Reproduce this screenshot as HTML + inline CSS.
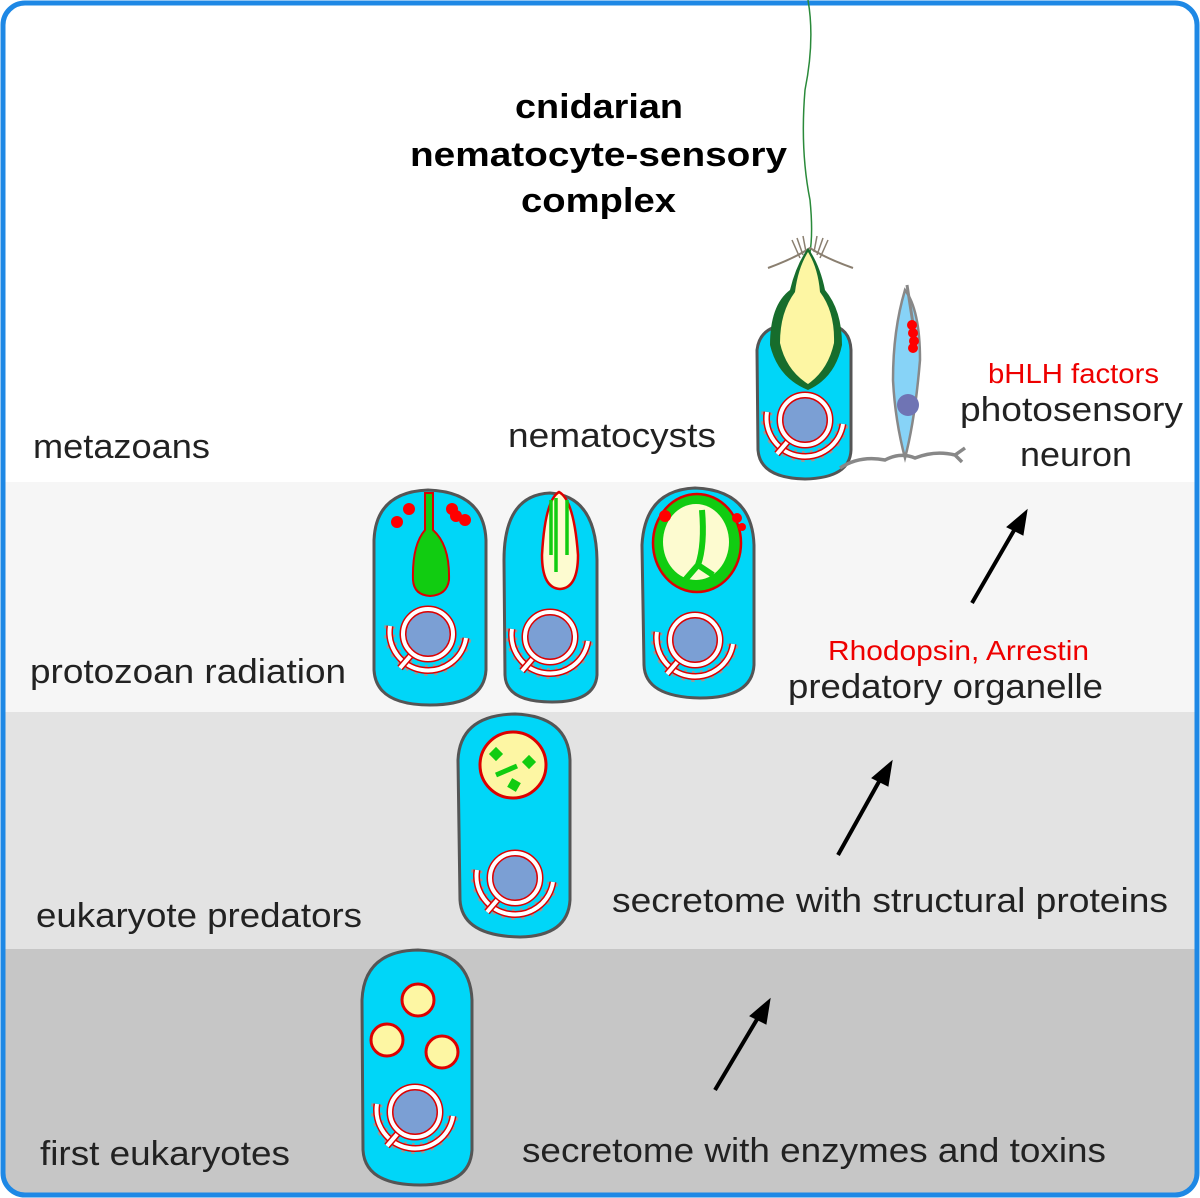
<!DOCTYPE html>
<html><head><meta charset="utf-8"><style>
html,body{margin:0;padding:0;background:#fff}
svg{display:block}
text{font-family:"Liberation Sans",sans-serif}
</style></head><body>
<svg width="1200" height="1198" viewBox="0 0 1200 1198" xmlns="http://www.w3.org/2000/svg">
<defs>
<clipPath id="cp"><rect x="3" y="3" width="1194" height="1192" rx="22"/></clipPath>
<g id="nuc">
  <path d="M-38,-8 A38 38 0 1 0 38,4" fill="none" stroke="#999" stroke-width="11" stroke-dasharray="3 6"/>
  <path d="M-38,-8 A38 38 0 1 0 38,4" fill="none" stroke="#d00" stroke-width="7"/>
  <path d="M-38,-8 A38 38 0 1 0 38,4" fill="none" stroke="#fff" stroke-width="4"/>
  <path d="M-16,20 L-28,34" stroke="#d00" stroke-width="7"/>
  <path d="M-16,20 L-28,34" stroke="#fff" stroke-width="4"/>
  <circle r="22" fill="#7b9fd4"/>
  <circle r="25" fill="none" stroke="#d00" stroke-width="7"/>
  <circle r="25" fill="none" stroke="#fff" stroke-width="4"/>
</g>
</defs>
<g clip-path="url(#cp)">
<rect x="0" y="0" width="1200" height="482" fill="#fff"/>
<rect x="0" y="482" width="1200" height="230" fill="#f6f6f6"/>
<rect x="0" y="712" width="1200" height="237" fill="#e3e3e3"/>
<rect x="0" y="949" width="1200" height="250" fill="#c6c6c6"/>
</g>
<rect x="3" y="3" width="1194" height="1192" rx="22" fill="none" stroke="#1e88e5" stroke-width="5"/>

<!-- first eukaryote -->
<path d="M362,1000 Q364,951 418,950 Q470,952 472,1000 L472,1150 Q470,1185 420,1185 Q365,1185 363,1150Z" fill="#00d6f8" stroke="#555" stroke-width="3"/>
<circle cx="418" cy="1000" r="16" fill="#fdf6a3" stroke="#d00" stroke-width="3"/>
<circle cx="387" cy="1040" r="16" fill="#fdf6a3" stroke="#d00" stroke-width="3"/>
<circle cx="442" cy="1052" r="16" fill="#fdf6a3" stroke="#d00" stroke-width="3"/>
<use href="#nuc" x="415" y="1112"/>

<!-- eukaryote predator -->
<path d="M458,760 Q460,715 515,714 Q568,716 570,760 L570,900 Q568,936 520,937 Q462,936 460,900Z" fill="#00d6f8" stroke="#555" stroke-width="3"/>
<circle cx="513" cy="765" r="33" fill="#fdf6a3" stroke="#d00" stroke-width="3"/>
<rect x="491" y="749" width="10" height="10" fill="#1c1" transform="rotate(45 496 754)"/>
<rect x="524" y="757" width="10" height="10" fill="#1c1" transform="rotate(45 529 762)"/>
<rect x="509" y="780" width="10" height="10" fill="#1c1" transform="rotate(30 514 785)"/>
<path d="M496,775 L517,766" stroke="#1c1" stroke-width="5"/>
<use href="#nuc" x="515" y="878"/>

<!-- protozoan cell 1 -->
<path d="M374,540 Q376,492 428,490 Q484,492 486,540 L486,670 Q484,705 430,705 Q376,705 374,670Z" fill="#00d6f8" stroke="#555" stroke-width="3"/>
<path d="M425,493 L433,493 L433,530 Q450,545 449,580 Q447,595 430,596 Q414,595 413,580 Q412,545 425,530Z" fill="#1c1" stroke="#d00" stroke-width="2"/>
<circle cx="409" cy="509" r="6" fill="#f00"/><circle cx="397" cy="522" r="6" fill="#f00"/>
<circle cx="452" cy="509" r="6" fill="#f00"/><circle cx="456" cy="516" r="6" fill="#f00"/><circle cx="465" cy="520" r="6" fill="#f00"/>
<use href="#nuc" x="428" y="634"/>

<!-- protozoan cell 2 -->
<path d="M504,560 Q504,495 550,493 Q596,496 597,560 L597,675 Q595,702 552,702 Q506,702 505,675Z" fill="#00d6f8" stroke="#555" stroke-width="3"/>
<path d="M559,492 Q574,500 578,555 Q578,588 560,589 Q542,588 542,555 Q545,500 559,492Z" fill="#fdfbd0" stroke="#d00" stroke-width="2.5"/>
<path d="M556,498 V572 M551,500 V555 M567,500 V555" stroke="#1c1" stroke-width="3.5"/>
<use href="#nuc" x="550" y="637"/>

<!-- protozoan cell 3 -->
<path d="M642,545 Q645,490 695,488 Q752,490 754,545 L754,665 Q752,698 700,698 Q645,697 644,665Z" fill="#00d6f8" stroke="#555" stroke-width="3"/>
<ellipse cx="697" cy="543" rx="44" ry="49" fill="#1c1" stroke="#d00" stroke-width="2.5"/>
<ellipse cx="696" cy="542" rx="33" ry="38" fill="#fdfbd0"/>
<path d="M702,510 Q705,545 698,565 L685,580 M698,565 L713,575" fill="none" stroke="#1c1" stroke-width="6"/>
<circle cx="665" cy="516" r="6" fill="#f00"/><circle cx="737" cy="518" r="5" fill="#f00"/><circle cx="742" cy="527" r="4" fill="#f00"/>
<use href="#nuc" x="695" y="640"/>

<!-- cnidarian nematocyte -->
<path d="M808,0 Q815,40 805,90 Q800,150 810,200 Q814,240 808,262" fill="none" stroke="#2a8a3a" stroke-width="1.5"/>
<path d="M768,268 Q795,258 810,248 Q825,258 853,268" fill="none" stroke="#8a7f70" stroke-width="2"/>
<g stroke="#8a7f70" stroke-width="1.5">
<path d="M800,258 L792,240 M803,255 L797,238 M806,252 L803,236 M814,252 L817,236 M817,255 L823,238 M820,258 L828,240"/></g>
<path d="M757,350 Q760,325 790,325 L830,325 Q850,328 851,350 L851,450 Q850,478 805,479 Q760,478 758,450Z" fill="#00d6f8" stroke="#555" stroke-width="3"/>
<path d="M808,248 Q820,265 825,290 Q842,310 842,345 Q835,378 808,390 Q778,378 770,345 Q770,305 790,290 Q796,265 808,248Z" fill="#176d2c"/>
<path d="M808,252 Q818,268 820,292 Q835,312 834,343 Q828,370 808,384 Q786,370 780,343 Q780,312 795,292 Q798,268 808,252Z" fill="#fdf6a3"/>
<use href="#nuc" x="805" y="420"/>
<path d="M840,468 Q860,455 885,460 Q900,452 915,458 Q935,450 955,455 L965,448 M955,455 L962,462" fill="none" stroke="#888" stroke-width="3.5"/>
<path d="M905,290 Q920,310 920,360 Q915,420 905,458 Q895,420 893,380 Q893,330 905,290Z" fill="#87d3f7" stroke="#888" stroke-width="2.5"/>
<path d="M907,285 L914,330" stroke="#888" stroke-width="3"/>
<circle cx="912" cy="325" r="5" fill="#f00"/><circle cx="913" cy="333" r="5" fill="#f00"/><circle cx="914" cy="341" r="5" fill="#f00"/><circle cx="913" cy="348" r="5" fill="#f00"/>
<circle cx="908" cy="405" r="11" fill="#6f74b4"/>

<!-- arrows -->
<g stroke="#000" stroke-width="4" fill="#000">
<line x1="972" y1="603" x2="1016" y2="527"/><path d="M1027,510 L1007,527 L1023,535Z" stroke-width="1"/>
<line x1="838" y1="855" x2="881" y2="778"/><path d="M892,761 L872,778 L888,786Z" stroke-width="1"/>
<line x1="715" y1="1090" x2="759" y2="1016"/><path d="M770,999 L750,1016 L766,1024Z" stroke-width="1"/>
</g>

<!-- text -->
<g font-size="34" font-weight="bold" fill="#000" lengthAdjust="spacingAndGlyphs">
<text x="515" y="118" textLength="168" lengthAdjust="spacingAndGlyphs">cnidarian</text>
<text x="410" y="166" textLength="377" lengthAdjust="spacingAndGlyphs">nematocyte-sensory</text>
<text x="521" y="212" textLength="155" lengthAdjust="spacingAndGlyphs">complex</text>
</g>
<g font-size="34" fill="#222">
<text x="33" y="458" textLength="177" lengthAdjust="spacingAndGlyphs">metazoans</text>
<text x="508" y="447" textLength="208" lengthAdjust="spacingAndGlyphs">nematocysts</text>
<text x="960" y="421" textLength="223" lengthAdjust="spacingAndGlyphs">photosensory</text>
<text x="1020" y="466" textLength="112" lengthAdjust="spacingAndGlyphs">neuron</text>
<text x="30" y="683" textLength="316" lengthAdjust="spacingAndGlyphs">protozoan radiation</text>
<text x="788" y="698" textLength="315" lengthAdjust="spacingAndGlyphs">predatory organelle</text>
<text x="36" y="927" textLength="326" lengthAdjust="spacingAndGlyphs">eukaryote predators</text>
<text x="612" y="912" textLength="556" lengthAdjust="spacingAndGlyphs">secretome with structural proteins</text>
<text x="40" y="1165" textLength="250" lengthAdjust="spacingAndGlyphs">first eukaryotes</text>
<text x="522" y="1162" textLength="584" lengthAdjust="spacingAndGlyphs">secretome with enzymes and toxins</text>
</g>
<g font-size="28" fill="#e00">
<text x="988" y="383" textLength="171" lengthAdjust="spacingAndGlyphs">bHLH factors</text>
<text x="828" y="660" textLength="261" lengthAdjust="spacingAndGlyphs">Rhodopsin, Arrestin</text>
</g>
</svg>
</body></html>
